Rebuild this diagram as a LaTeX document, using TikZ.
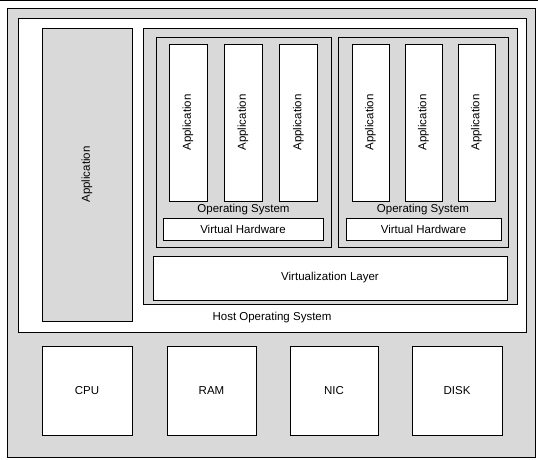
\documentclass[tikz,border=0pt]{standalone}
\usepackage{fontspec}
\setmainfont{Liberation Sans}
\definecolor{boxgray}{RGB}{217,217,217}
\begin{document}
\begin{tikzpicture}[x=1pt,y=-1pt,
  every node/.style={font=\fontsize{11.5}{13}\selectfont},
  box/.style={draw=black,line width=1pt,rectangle,inner sep=0pt},
  graybox/.style={box,fill=boxgray},
  whitebox/.style={box,fill=white},
  lbl/.style={inner sep=0pt}]
\useasboundingbox (0,0) rectangle (538,459);
\draw[line width=1pt] (0,0.5) -- (538,0.5);
\node[graybox,minimum width=528,minimum height=449] (outer) at (271,232.5) {};
\node[whitebox,minimum width=508,minimum height=314] (host) at (272,175) {};
\node[lbl] (hostlbl) at (272,318) {Host Operating System};
\node[graybox,minimum width=90,minimum height=293] (bigapp) at (87,174.5) {};
\node[lbl,rotate=90] (bigapplbl) at (87,174.5) {Application};
\node[graybox,minimum width=374,minimum height=276] (virt) at (330,166) {};
% VM 1
\node[graybox,minimum width=175,minimum height=210] (vm1) at (243.5,142) {};
\node[whitebox,minimum width=38,minimum height=157] (a11) at (188,122.5) {};
\node[whitebox,minimum width=38,minimum height=157] (a12) at (243,122.5) {};
\node[whitebox,minimum width=38,minimum height=157] (a13) at (298.5,122.5) {};
\node[lbl,rotate=90] at (a11) {Application};
\node[lbl,rotate=90] at (a12) {Application};
\node[lbl,rotate=90] at (a13) {Application};
\node[lbl] (os1) at (243.5,210) {Operating System};
\node[whitebox,minimum width=160,minimum height=22] (vh1) at (243,229) {Virtual Hardware};
% VM 2
\node[graybox,minimum width=170,minimum height=210] (vm2) at (423,142) {};
\node[whitebox,minimum width=37,minimum height=157] (a21) at (370.5,122.5) {};
\node[whitebox,minimum width=37,minimum height=157] (a22) at (423.5,122.5) {};
\node[whitebox,minimum width=37,minimum height=157] (a23) at (476.5,122.5) {};
\node[lbl,rotate=90] at (a21) {Application};
\node[lbl,rotate=90] at (a22) {Application};
\node[lbl,rotate=90] at (a23) {Application};
\node[lbl] (os2) at (423,210) {Operating System};
\node[whitebox,minimum width=155,minimum height=22] (vh2) at (423.5,229) {Virtual Hardware};
% Virtualization layer
\node[whitebox,minimum width=354,minimum height=44] (vlayer) at (330,278) {Virtualization Layer};
% Hardware
\node[whitebox,minimum width=90,minimum height=89] (cpu) at (87,390.5) {CPU};
\node[whitebox,minimum width=89,minimum height=89] (ram) at (211.5,390.5) {RAM};
\node[whitebox,minimum width=88,minimum height=89] (nic) at (334,390.5) {NIC};
\node[whitebox,minimum width=90,minimum height=89] (disk) at (457,390.5) {DISK};
\end{tikzpicture}
\end{document}
